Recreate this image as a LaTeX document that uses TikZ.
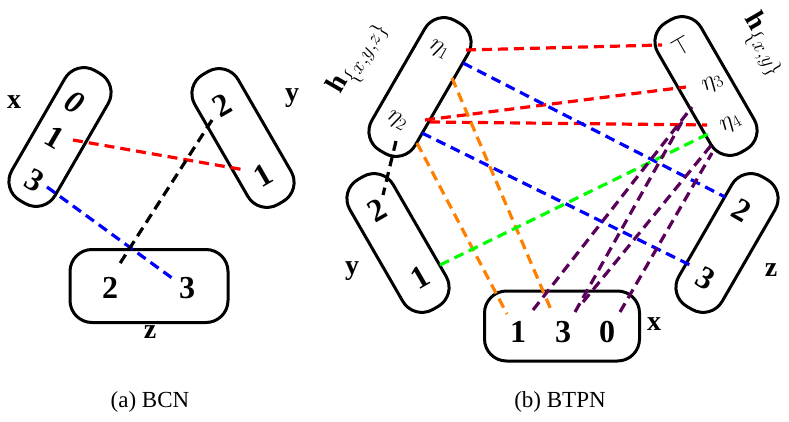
\documentclass[tikz,border=0pt]{standalone}
\usepackage{fontspec}
\setmainfont{Liberation Serif}
\begin{document}
\begin{tikzpicture}[x=1pt,y=-1pt,
 box/.style={draw,line width=3pt,rounded corners=22pt,minimum width=#1,inner sep=0pt},
 dig/.style={font=\bfseries\fontsize{32}{32}\selectfont},
 lab/.style={font=\bfseries\fontsize{28}{28}\selectfont},
 eta/.style={font=\fontsize{26}{26}\selectfont},
 captxt/.style={font=\fontsize{23}{23}\selectfont},
 dl/.style={line width=3.2pt,dash pattern=on 10pt off 6pt,#1}]
\useasboundingbox (0,0) rectangle (789,422);
% ---- (a) BCN
\node[box=50pt,minimum height=150pt,rotate=-30] (ax) at (60,137) {};
\node[box=50pt,minimum height=150pt,rotate=30] (ay) at (243,138) {};
\node[box=158pt,minimum height=73pt] (az) at (149,286) {};
\node[dig,rotate=-30,font=\bfseries\itshape\fontsize{32}{32}\selectfont] (ax0) at (75,102) {0};
\node[dig,rotate=-30] (ax1) at (55,137) {1};
\node[dig,rotate=-30] (ax3) at (35,180) {3};
\node[lab] (axl) at (14,102) {x};
\node[dig,rotate=30] (ay2) at (222,105) {2};
\node[dig,rotate=30] (ay1) at (263,175) {1};
\node[lab] (ayl) at (292,98) {y};
\node[dig] (az2) at (110,288) {2};
\node[dig] (az3) at (187,288) {3};
\node[lab] (azl) at (150,332) {z};
\node[captxt] (capa) at (150,402) {(a) BCN};
\coordinate (r1a) at (73,140); \coordinate (r1b) at (245,170);
\coordinate (b1a) at (47,187); \coordinate (b1b) at (172,278);
\coordinate (k1a) at (212,120); \coordinate (k1b) at (117,268);
\draw[dl=red] (r1a) -- (r1b);
\draw[dl=blue] (b1a) -- (b1b);
\draw[dl=black] (k1a) -- (k1b);
% ---- (b) BTPN
\node[box=50pt,minimum height=150pt,rotate=-30] (hxyz) at (420,87) {};
\node[box=50pt,minimum height=150pt,rotate=30] (hxy) at (706,86) {};
\node[box=50pt,minimum height=150pt,rotate=30] (by) at (398,243) {};
\node[box=50pt,minimum height=150pt,rotate=-30] (bz) at (727,243) {};
\node[box=155pt,minimum height=70pt] (bx) at (562,326) {};
\node[eta,rotate=-30] (e1) at (439,50) {$\eta_1$};
\node[eta,rotate=-30] (e2) at (397,121) {$\eta_2$};
\node[eta,rotate=30] (top) at (682,46) {$\top$};
\node[eta,rotate=30] (e3) at (713,84) {$\eta_3$};
\node[eta,rotate=30] (e4) at (731,124) {$\eta_4$};
\node[lab,rotate=60] (lhxyz) at (358,58) {h$_{\{x,y,z\}}$};
\node[lab,rotate=-60] (lhxy) at (764,45) {h$_{\{x,y\}}$};
\node[dig,rotate=30] (by2) at (377,210) {2};
\node[dig,rotate=30] (by1) at (420,277) {1};
\node[lab] (byl) at (352,271) {y};
\node[dig,rotate=-30] (bz2) at (742,210) {2};
\node[dig,rotate=-30] (bz3) at (706,278) {3};
\node[lab] (bzl) at (771,270) {z};
\node[dig] (bx1) at (518,332) {1};
\node[dig] (bx3) at (563,332) {3};
\node[dig] (bx0) at (607,332) {0};
\node[lab] (bxl) at (654,324) {x};
\node[captxt] (capb) at (560,402) {(b) BTPN};
% endpoints
\coordinate (p1) at (466,50); \coordinate (q1) at (662,45);
\coordinate (p2) at (425,120); \coordinate (q2) at (686,87);
\coordinate (p3) at (430,122); \coordinate (q3) at (707,125);
\coordinate (p4) at (463,63); \coordinate (q4) at (725,197);
\coordinate (p5) at (422,133); \coordinate (q5) at (690,265);
\coordinate (p6) at (396,141); \coordinate (q6) at (383,195);
\coordinate (p7) at (452,78); \coordinate (q7) at (552,312);
\coordinate (p8) at (417,143); \coordinate (q8) at (507,314);
\coordinate (p9) at (440,265); \coordinate (q9) at (710,133);
\coordinate (u1) at (533,310); \coordinate (v1) at (692,107);
\coordinate (u2) at (575,312); \coordinate (v2) at (683,120);
\coordinate (u3) at (583,302); \coordinate (v3) at (713,143);
\coordinate (u4) at (620,312); \coordinate (v4) at (712,153);
\draw[dl=red] (p1) -- (q1);
\draw[dl=red] (p2) -- (q2);
\draw[dl=red] (p3) -- (q3);
\draw[dl=blue] (p4) -- (q4);
\draw[dl=blue] (p5) -- (q5);
\draw[dl=black] (p6) -- (q6);
\draw[dl=orange] (p7) -- (q7);
\draw[dl=orange] (p8) -- (q8);
\draw[dl=green] (p9) -- (q9);
\foreach \i in {1,...,4}{\draw[dl={violet!70!black}] (u\i) -- (v\i);}
\end{tikzpicture}
\end{document}
